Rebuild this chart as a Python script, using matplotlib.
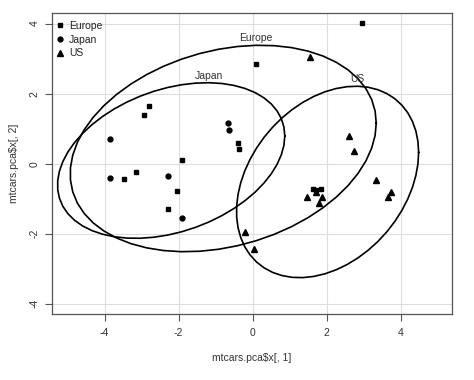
import numpy as np
import matplotlib
matplotlib.use("Agg")
import matplotlib.pyplot as plt

# ---- data ----
europe_x = [-2.79, -2.93, -0.39, -0.37, -1.92, -3.16, -3.47, -2.05, -2.30, 0.08, 2.96, 1.62, 1.72, 1.85]
europe_y = [1.65, 1.40, 0.60, 0.42, 0.11, -0.24, -0.43, -0.79, -1.30, 2.84, 4.01, -0.72, -0.76, -0.72]
japan_x = [-3.86, -0.66, -0.64, -3.86, -2.29, -1.90]
japan_y = [0.70, 1.17, 0.97, -0.40, -0.34, -1.56]
us_x = [1.55, 2.60, 2.73, 3.33, 3.72, 3.66, -0.22, 0.04, 1.46, 1.70, 1.88, 1.80]
us_y = [3.04, 0.78, 0.37, -0.46, -0.82, -0.95, -1.95, -2.44, -0.95, -0.82, -0.95, -1.11]
groups = ["Europe", "Japan", "US"]
markers = ["s", "o", "^"]
xticks = [-4, -2, 0, 2, 4]
yticks = [-4, -2, 0, 2, 4]
level = 0.80

plt.rcParams['font.family'] = ['Liberation Sans', 'DejaVu Sans']

fig = plt.figure(figsize=(4.74, 3.80), dpi=100)
ax = fig.add_axes([52.3/474, 1-314.3/380, (452-52.3)/474, (314.3-12.7)/380])

def data_ellipse(x, y, level, segments=51):
    x = np.asarray(x); y = np.asarray(y)
    n = len(x); m = n - 1
    fq = (m / 2.0) * ((1 - level) ** (-2.0 / m) - 1)
    r = np.sqrt(2 * fq)
    center = np.array([x.mean(), y.mean()])
    cov = np.cov(np.vstack([x, y]))
    R = np.linalg.cholesky(cov).T
    ang = np.arange(segments + 1) * 2 * np.pi / segments
    circ = np.column_stack([np.cos(ang), np.sin(ang)])
    return center + r * circ @ R

data = {"Europe": (europe_x, europe_y), "Japan": (japan_x, japan_y), "US": (us_x, us_y)}
msize = {"s": 3.5, "o": 3.5, "^": 4.0}
for g, mk in zip(groups, markers):
    xs, ys = data[g]
    ax.plot(xs, ys, linestyle='none', marker=mk, color='black', markersize=msize[mk], zorder=3)
    e = data_ellipse(xs, ys, level)
    ax.plot(e[:, 0], e[:, 1], color='black', lw=1.2, zorder=2)
    i = np.argmax(e[:, 1])
    ax.annotate(g, (e[i, 0], e[i, 1]), xytext=(0, 1.5), textcoords='offset points',
                ha='center', va='bottom', fontsize=7.5, color='#333333', zorder=4)

ax.set_xlim(-5.41, 5.38)
ax.set_ylim(-4.30, 4.31)
ax.set_xticks(xticks)
ax.set_yticks(yticks)
ax.set_xticklabels([str(t) for t in xticks])
ax.set_yticklabels([str(t) for t in yticks], rotation=90, va='center')
ax.grid(True, color='#dddddd', lw=0.8, zorder=0)
ax.set_axisbelow(True)
ax.tick_params(direction='out', length=5, width=0.8, colors='#555555', labelcolor='#333333',
               labelsize=7.5, pad=5)
ax.tick_params(axis='y', pad=4)
for s in ax.spines.values():
    s.set_color('#555555'); s.set_linewidth(0.9)

ax.set_xlabel("mtcars.pca$x[, 1]", fontsize=7.5, color='#333333', labelpad=11)
ax.set_ylabel("mtcars.pca$x[, 2]", fontsize=7.5, color='#333333', labelpad=7.5)

# legend
handles = [plt.Line2D([], [], linestyle='none', marker=mk, color='black', markersize=msize[mk]) for mk in markers]
leg = ax.legend(handles, groups, loc='upper left', bbox_to_anchor=(-0.006, 0.997), frameon=False, fontsize=7.5,
                handlelength=0.6, handletextpad=0.55, borderaxespad=0.5, labelspacing=0.35,
                borderpad=0.2)
for t in leg.get_texts():
    t.set_color('#222222')

fig.savefig("out.png", dpi=100)
